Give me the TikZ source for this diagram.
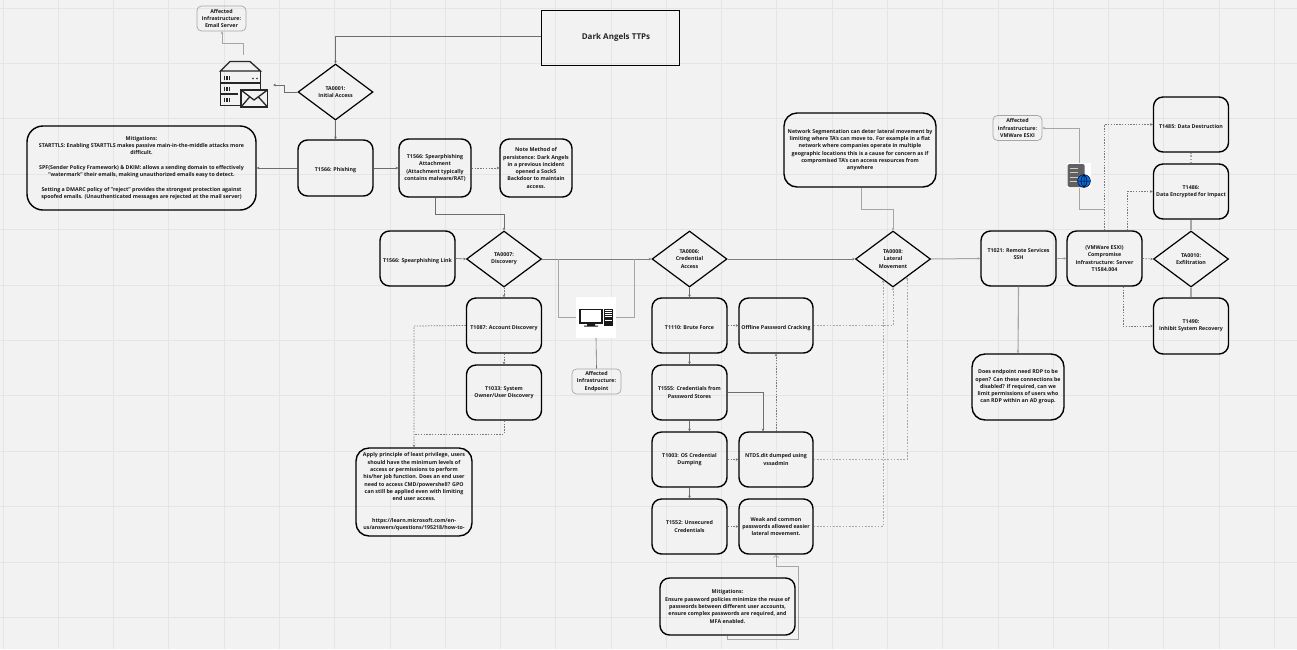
\documentclass[tikz,border=0pt]{standalone}
\usepackage{fontspec}
\setmainfont{Open Sans}
\usetikzlibrary{arrows.meta,shapes.geometric,calc}
\definecolor{bgc}{HTML}{F2F2F2}
\definecolor{gridc}{HTML}{E5E5E5}
\definecolor{linec}{HTML}{6E6E6E}
\definecolor{palec}{HTML}{A6A6A6}
\definecolor{dashc}{HTML}{7A7A7A}
\definecolor{globec}{HTML}{0A6FD0}
\tikzset{
  x=1pt,y=-1pt,
  base text/.style={font=\fontsize{5.3}{7.3}\selectfont\bfseries,align=center,text=black!90,inner sep=0pt},
  rbox/.style={base text,draw=black,line width=1.4pt,rounded corners=9.5pt,fill=none,minimum width=#1,execute at begin node={\rule{0pt}{9pt}}},
  rbox/.default=75,
  dia/.style={base text,shape=diamond,draw=black,line width=1.2pt,aspect=1.33,minimum width=75,minimum height=56,inner sep=0pt},
  infra/.style={base text,draw=palec,line width=.7pt,rounded corners=4.5pt,minimum width=49,minimum height=25},
  tip/.style={-{Stealth[length=2.6pt,width=2.6pt]}},
  solid link/.style={draw=linec,line width=.6pt,tip},
  pale link/.style={draw=palec,line width=1pt,tip},
  plain pale/.style={draw=palec,line width=.9pt},
  dash link/.style={draw=dashc,line width=.75pt,dash pattern=on 1.4pt off 1.4pt,tip},
  dash pale/.style={draw=palec,line width=1pt,dash pattern=on 1.6pt off 1.6pt,tip},
  icon/.style={draw=black!85,line width=1.3pt,line join=miter},
}
\begin{document}
\begin{tikzpicture}
\useasboundingbox (0,0) rectangle (1297,649);
\fill[bgc] (0,0) rectangle (1297,649);
\foreach \i in {0,...,23} \draw[gridc,line width=.9pt] (3+55.28*\i,0) -- (3+55.28*\i,649);
\foreach \i in {0,...,11} \draw[gridc,line width=.9pt] (0,8+55.4*\i) -- (1297,8+55.4*\i);

% title and tactics
\node[draw=black,line width=.9pt,minimum width=138,minimum height=55,font=\fontsize{8}{9}\selectfont\bfseries,text=black!85,inner sep=0pt] (title) at (610,37.5) {\hspace*{12pt}Dark Angels TTPs};
\node[dia] (ta1) at (335.5,92) {TA0001:\\Initial Access};
\node[dia] (ta7) at (504,259) {TA0007:\\Discovery};
\node[dia] (ta6) at (689.5,259) {TA0006:\\Credential\\Access};
\node[dia] (ta8) at (893,259) {TA0008:\\Lateral\\Movement};
\node[dia] (ta10) at (1191,259) {TA0010:\\Exfiltration};

% boxes
\node[rbox,minimum height=56] (phish) at (335.5,168) {T1566: Phishing};
\node[rbox=229,minimum height=84,rounded corners=16pt] (mit1) at (141.5,168) {Mitigations:\\STARTTLS: Enabling STARTTLS makes passive main-in-the-middle attacks more\\difficult.\\[7.3pt]SPF(Sender Policy Framework) \& DKIM: allows a sending domain to effectively\\"watermark" their emails, making unauthorized emails easy to detect.\\[7.3pt]Setting a DMARC policy of "reject" provides the strongest protection against\\spoofed emails. (Unauthenticated messages are rejected at the mail server)};
\node[rbox=72,minimum height=58] (attach) at (435,168) {T1566: Spearphishing\\Attachment\\(Attachment typically\\contains malware/RAT)};
\node[rbox=72,minimum height=58] (note) at (536,168) {Note Method of\\persistence: Dark Angels\\in a previous incident\\opened a Sock5\\Backdoor to maintain\\access.};
\node[rbox,minimum height=55] (link) at (417.5,258.5) {T1566: Spearphishing Link};
\node[rbox,minimum height=55] (t1087) at (504,325.5) {T1087: Account Discovery};
\node[rbox,minimum height=55] (t1033) at (504,392.5) {T1033: System\\Owner/User Discovery};
\node[rbox=116,minimum height=88,rounded corners=13pt] (least) at (414,492) {Apply principle of least privilege, users\\should have the minimum levels of\\access or permissions to perform\\his/her job function. Does an end user\\need to access CMD/powershell? GPO\\can still be applied even with limiting\\end user access.\\[14.6pt]https://learn.microsoft.com/en-\\us/answers/questions/195218/how-to-};
\node[rbox,minimum height=55] (t1110) at (689.5,325.5) {T1110: Brute Force};
\node[rbox=74,minimum height=55] (offline) at (776,325.5) {Offline Password Cracking};
\node[rbox,minimum height=55] (t1555) at (689.5,392.5) {T1555: Credentials from\\Password Stores};
\node[rbox,minimum height=55] (t1003) at (689.5,459.5) {T1003: OS Credential\\Dumping};
\node[rbox=74,minimum height=55] (ntds) at (776,459.5) {NTDS.dit dumped using\\vssadmin};
\node[rbox,minimum height=55] (t1552) at (689.5,526.5) {T1552: Unsecured\\Credentials};
\node[rbox=74,minimum height=55] (weak) at (776,526.5) {Weak and common\\passwords allowed easier\\lateral movement.};
\node[rbox=135,minimum height=57] (mit2) at (727.5,606.5) {Mitigations:\\Ensure password policies minimize the reuse of\\passwords between different user accounts,\\ensure complex passwords are required, and\\MFA enabled.};
\node[rbox=152,minimum height=74,rounded corners=13pt] (seg) at (860,150) {Network Segmentation can deter lateral movement by\\limiting where TA's can move to. For example in a flat\\network where companies operate in multiple\\geographic locations this is a cause for concern as if\\compromised TA's can access resources from\\anywhere};
\node[rbox,minimum height=55] (t1021) at (1018.5,258.5) {T1021: Remote Services\\SSH\\\strut};
\node[rbox,minimum height=55] (vm) at (1104.5,258.5) {(VMWare ESXI)\\Compromise\\Infrastructure: Server\\T1584.004};
\node[rbox=92,minimum height=66,rounded corners=13pt] (rdp) at (1018,387) {Does endpoint need RDP to be\\open? Can these connections be\\disabled? If required, can we\\limit permissions of users who\\can RDP within an AD group.};
\node[rbox,minimum height=55] (t1485) at (1191,124.5) {T1485: Data Destruction};
\node[rbox,minimum height=55] (t1486) at (1191,191.5) {T1486:\\Data Encrypted for Impact};
\node[rbox,minimum height=56] (t1490) at (1191,326) {T1490:\\Inhibit System Recovery};

% affected infrastructure
\node[infra] (infmail) at (221.5,18.5) {Affected\\Infrastructure:\\Email Server};
\node[infra] (infend) at (596.5,381.5) {Affected\\Infrastructure:\\Endpoint};
\node[infra] (infvm) at (1017.5,128) {Affected\\Infrastructure:\\VMWare ESXI};

% icon anchors
\node[minimum width=60,minimum height=60,inner sep=0pt] (mailicon) at (243,85) {};
\node[fill=white,minimum width=40,minimum height=41,inner sep=0pt] (pc) at (596,317.5) {};
\node[minimum width=24,minimum height=25,inner sep=0pt] (globe) at (1079,175.5) {};

% mail server icon
\draw[icon] (220.5,71) -- (230,61.5) -- (250,61.5) -- (260.5,71) -- cycle;
\draw[icon] (220.5,71) -- (220.5,105.5) -- (242,105.5);
\draw[icon] (260.5,71) -- (260.5,89);
\draw[icon] (220.5,83) -- (260.5,83) (220.5,94) -- (238,94);
\foreach \yy in {78,89,100} \foreach \xx in {224.5,227,229.5} \draw[black!85,line width=1.1pt] (\xx,\yy-2) -- (\xx,\yy+2);
\fill[black!85] (253,78.5) circle (.8) (257,78.5) circle (.8);
\draw[icon,fill=bgc,line width=1.3pt] (241,90) rectangle (267.5,107);
\draw[icon] (241,90) -- (254,100) -- (267.5,90) (241,107) -- (250,96.5) (267.5,107) -- (258,96.5);

% computer icon
\draw[black!90,line width=1.1pt,fill=white] (580,309.5) rectangle (602,323);
\fill[black!90] (587,323) rectangle (595,326) (584,325.5) rectangle (598,326.6);
\fill[black!90] (604,308.5) rectangle (612.5,326);
\foreach \yy in {310.5,312.5,314.5,316.5} \draw[white,line width=.45pt] (605,\yy) -- (611.5,\yy);
\draw[white,line width=.8pt] (605,320) -- (611.5,320);

% server globe icon
\fill[white] (1067,163) rectangle (1091,188);
\fill[black!62,rounded corners=1.5pt] (1067.5,164) rectangle (1084.5,187);
\foreach \yy in {168,172.5,177,181.5} \draw[black!20,line width=.9pt] (1069.5,\yy) -- (1078,\yy);
\fill[globec] (1084,181) circle (6.4);
\draw[black!80!blue,line width=.5pt] (1084,181) circle (6.4) (1077.6,181) -- (1090.4,181) (1084,174.6) -- (1084,187.4) (1084,174.6) .. controls (1080,178) and (1080,184) .. (1084,187.4) (1084,174.6) .. controls (1088,178) and (1088,184) .. (1084,187.4);

% connectors
\coordinate (jt) at (335.5,36);
\draw[solid link] (title.west |- jt) -| (ta1.north);
\draw[solid link] (ta1.south) -- (phish.north);
\coordinate (m1) at (284,92);
\coordinate (m2) at (284,85);
\draw[solid link] (ta1.west) -- (m1) -- (m2) -- (mailicon.east);
\coordinate (e1) at (243,43);
\coordinate (e2) at (222,43);
\draw[plain pale,line width=.8pt,tip] (mailicon.north) -- (e1) -- (e2) -- (infmail.south -| e2);
\draw[solid link] (phish.west) -- (mit1.east);
\draw[solid link] (phish.east) -- (attach.west);
\draw[dash link] (attach.east) -- (note.west);
\coordinate (j1) at (435,214);
\draw[pale link,line width=.8pt,draw=linec] (attach.south) -- (j1) -| (ta7.north);
\draw[solid link] (link.east) -- (ta7.west);
\draw[pale link,draw=linec!90] (ta7.east) -- (ta6.west);
\draw[dash link] (ta7.south) -- (t1087.north);
\draw[dash link] (t1087.south) -- (t1033.north);
\coordinate (d1) at (414,326);
\coordinate (d2) at (414,434);
\draw[dash link] (t1087.west) -- (d1) -- (least.north);
\draw[dash link,-] (t1033.south) |- (d2);
\coordinate (p1) at (558,259);
\coordinate (p2) at (634.5,259);
\draw[plain pale] (p1) |- (pc.west);
\draw[plain pale] (p2) |- (pc.east);
\draw[solid link,-] (pc.south) -- (infend.north);
\draw[solid link] (ta6.south) -- (t1110.north);
\draw[solid link] (t1110.south) -- (t1555.north);
\draw[solid link] (t1555.south) -- (t1003.north);
\draw[solid link] (t1003.south) -- (t1552.north);
\draw[dash link] (t1110.east) -- (offline.west);
\draw[dash link] (t1003.east) -- (ntds.west);
\draw[dash link] (t1552.east) -- (weak.west);
\draw[pale link,line width=.7pt,draw=linec] ([yshift=0.5pt]t1555.east) -| ([xshift=-13pt]ntds.north);
\draw[dash link] (ntds.north) -- (offline.south);
\coordinate (u1) at (907,277);
\coordinate (u2) at (883,280);
\draw[dash pale] (offline.east) -| (ta8.south);
\draw[dash pale] (ntds.east) -| (u1);
\draw[dash pale] (weak.east) -| (u2);
\coordinate (w1) at (798,566);
\coordinate (w2) at (798,639);
\coordinate (w3) at (727.5,639);
\draw[draw=palec,line width=.6pt,tip,<-] (weak.south) |- (w1) -- (w2) -- (w3) -- (mit2.south);
\draw[pale link,draw=linec!90] (ta6.east) -- (ta8.west);
\coordinate (s1) at (861,209);
\draw[draw=palec,line width=.8pt,tip] (seg.south -| s1) -- (s1) -| (ta8.north);
\draw[pale link] (ta8.east) -- (t1021.west);
\draw[pale link] (t1021.east) -- (vm.west);
\draw[pale link,draw=palec,line width=1.1pt] (t1021.south) -- (rdp.north);
\draw[dash link] (vm.east) -- (ta10.west);
\coordinate (v2) at (1127,191.5);
\coordinate (v3) at (1123,326);
\draw[dash link] (vm.north) |- (t1485.west);
\draw[dash link] (vm.north -| v2) |- (t1486.west);
\draw[dash link] (vm.south -| v3) |- (t1490.west);
\coordinate (g1) at (1105,209);
\draw[plain pale] (g1) -| (globe.south);
\draw[draw=palec,line width=.8pt,tip] (globe.north) |- (infvm.east);
\draw[plain pale,line width=1.2pt] (ta10.north) -- (t1486.south);
\draw[dash pale,-,line width=1.2pt] (t1486.north) -- (t1485.south);
\draw[plain pale,line width=1.2pt] (ta10.south) -- (t1490.north);
\end{tikzpicture}
\end{document}
